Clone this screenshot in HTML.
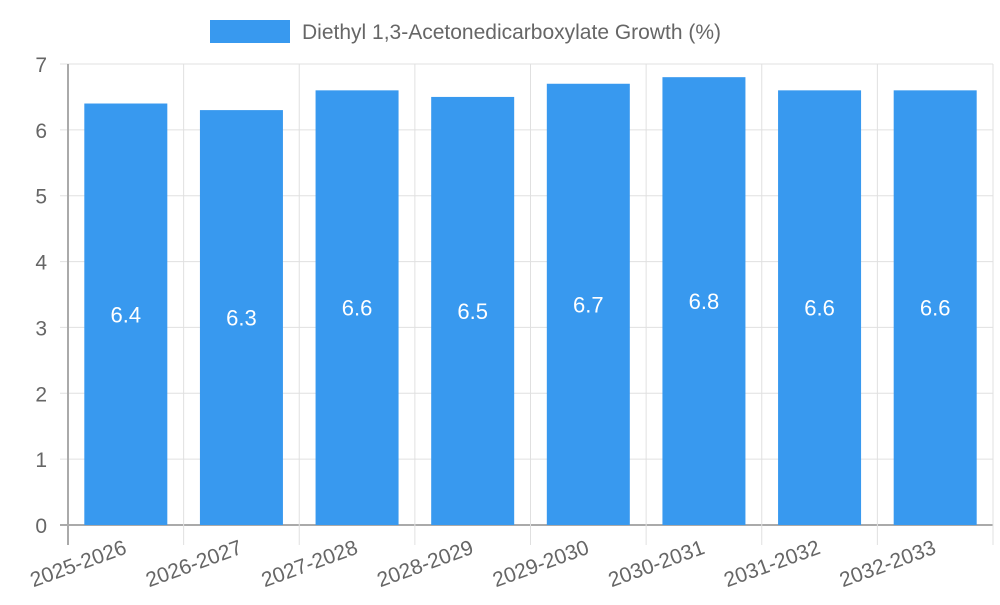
<!DOCTYPE html>
<html><head><meta charset="utf-8"><style>
body{margin:0;background:#fff;font-family:"Liberation Sans",sans-serif}
</style></head><body>
<svg width="1000" height="600" id="c" font-family="Liberation Sans, sans-serif">
<g>
<rect x="210" y="20" width="80" height="23" fill="#3899ef"/>
<text x="302" y="39" font-size="21" fill="#666">Diethyl 1,3-Acetonedicarboxylate Growth (%)</text>
</g>
</svg>
<script>
const categories=["2025-2026","2026-2027","2027-2028","2028-2029","2029-2030","2030-2031","2031-2032","2032-2033"];
const values=[6.4,6.3,6.6,6.5,6.7,6.8,6.6,6.6];
const yTicks=[0,1,2,3,4,5,6,7];
const svg=document.getElementById('c');const NS='http://www.w3.org/2000/svg';
const x0=68,x1=993,y0=525,yTop=64,ymax=7;
const bw=(x1-x0)/categories.length;
const y=v=>y0-(v/ymax)*(y0-yTop);
const xc=i=>x0+bw*(i+0.5);
function mk(t,a,p){const e=document.createElementNS(NS,t);for(const k in a)e.setAttribute(k,a[k]);(p||svg).appendChild(e);return e;}
yTicks.forEach(t=>{
const l=mk('line',{x1:60,x2:x1,y1:y(t),y2:y(t),stroke:t===0?'#aaa':'#e0e0e0','stroke-width':t===0?2:1});


const tx=mk('text',{x:47,y:y(t)+8,'text-anchor':'end','font-size':21,fill:'#666'});tx.textContent=t;


});
for(let i=0;i<=categories.length;i++){
const xx=x0+bw*i;
const l=mk('line',{x1:xx,x2:xx,y1:yTop,y2:545,stroke:i===0?'#aaa':'#e0e0e0','stroke-width':i===0?2:1});


}
categories.forEach((c,i)=>{
const v=values[i];
const r=mk('rect',{x:xc(i)-41.5,y:y(v),width:83,height:y0-y(v),fill:'#3899ef'});


const vl=mk('text',{x:xc(i),y:(y(v)+y0)/2+8,'text-anchor':'middle','font-size':22,fill:'#fff'});vl.textContent=v;


const tl=mk('text',{x:xc(i)+2,y:553,'text-anchor':'end','font-size':21,fill:'#666',transform:`rotate(-20 ${xc(i)+2} 553)`});tl.textContent=c;


});
</script>
</body></html>
